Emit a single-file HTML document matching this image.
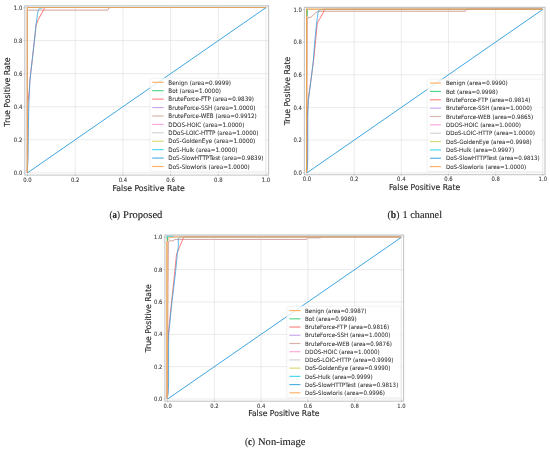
<!DOCTYPE html>
<html lang="en"><head><meta charset="utf-8"><title>ROC curves</title>
<style>html,body{margin:0;padding:0;background:#fff}body{width:550px;height:452px;overflow:hidden}svg{display:block}.s{font-family:"DejaVu Sans","Liberation Sans",sans-serif;fill:#2a2a2a;stroke:#2a2a2a;stroke-width:.14px;text-rendering:geometricPrecision}.t{font-family:"DejaVu Sans","Liberation Sans",sans-serif;fill:#333;stroke:#333;stroke-width:.06px;text-rendering:geometricPrecision}.l{font-family:"DejaVu Sans","Liberation Sans",sans-serif;fill:#303030;stroke:#303030;stroke-width:.05px;text-rendering:geometricPrecision}.c{font-family:"Liberation Serif","DejaVu Serif",serif;fill:#1a1a1a;stroke:#1a1a1a;stroke-width:.12px;text-rendering:geometricPrecision}</style></head><body>
<svg width="550" height="452" viewBox="0 0 550 452">
<rect width="550" height="452" fill="#fff"/>
<g id="plot-a">
<path d="M27.5 5.9V174.8M24.8 172.8H268.6M75.2 5.9V174.8M24.8 139.76H268.6M122.9 5.9V174.8M24.8 106.72H268.6M170.6 5.9V174.8M24.8 73.68H268.6M218.3 5.9V174.8M24.8 40.64H268.6M266 5.9V174.8M24.8 7.6H268.6" stroke="#d6d6d6" stroke-width="0.5" fill="none"/>
<path d="M27.5 174.7v1.3M24.9 172.8h-1.3M75.2 174.7v1.3M24.9 139.76h-1.3M122.9 174.7v1.3M24.9 106.72h-1.3M170.6 174.7v1.3M24.9 73.68h-1.3M218.3 174.7v1.3M24.9 40.64h-1.3M266 174.7v1.3M24.9 7.6h-1.3" stroke="#6a6a6a" stroke-width="0.45" fill="none"/>
<path d="M27.5 172.8L266 7.6" stroke="#38a4dd" stroke-width="0.98" fill="none"/>
<g transform="translate(-0.25 -0.1)">
<path d="M27.5 172.8L27.5 10.24L108.11 10.24L109.54 7.6L266 7.6" stroke="#d3a19a" stroke-width="1.0" fill="none" stroke-linejoin="round"/>
<path d="M27.5 172.8L27.98 156.28L28.22 103.42L29.53 90.2L30.2 80.12L34.51 42.13L36.3 25.11L38.49 19.82L44.7 8.29L45.15 7.6L266 7.6" stroke="#ff6060" stroke-width="0.85" fill="none" stroke-linejoin="round"/>
<path d="M27.5 172.8L28.22 159.58L28.57 131.5L29.05 106.72L29.77 90.2L30.2 80.12L34.51 42.13L36.3 25.11L37.59 15.36L38.49 10.08L39.81 8.49L44.2 7.6L266 7.6" stroke="#3aa6df" stroke-width="0.8" fill="none" stroke-linejoin="round"/>
<path d="M27.5 172.8V7.6H266" stroke="#e2a660" stroke-width="1.15" fill="none"/>
</g>
<path d="M24.8 174.8V5.9H268.6V174.8" fill="none" stroke="#c4c6c8" stroke-width="1.1"/>
<path d="M24.3 175.1H269.1" fill="none" stroke="#b2b4b6" stroke-width="0.8"/>
<text class="t" transform="translate(27.5 181.5) scale(1 1.12)" font-size="5.35" text-anchor="middle">0.0</text>
<text class="t" transform="translate(22.3 174.99) scale(1 1.12)" font-size="5.35" text-anchor="end">0.0</text>
<text class="t" transform="translate(75.2 181.5) scale(1 1.12)" font-size="5.35" text-anchor="middle">0.2</text>
<text class="t" transform="translate(22.3 141.95) scale(1 1.12)" font-size="5.35" text-anchor="end">0.2</text>
<text class="t" transform="translate(122.9 181.5) scale(1 1.12)" font-size="5.35" text-anchor="middle">0.4</text>
<text class="t" transform="translate(22.3 108.91) scale(1 1.12)" font-size="5.35" text-anchor="end">0.4</text>
<text class="t" transform="translate(170.6 181.5) scale(1 1.12)" font-size="5.35" text-anchor="middle">0.6</text>
<text class="t" transform="translate(22.3 75.87) scale(1 1.12)" font-size="5.35" text-anchor="end">0.6</text>
<text class="t" transform="translate(218.3 181.5) scale(1 1.12)" font-size="5.35" text-anchor="middle">0.8</text>
<text class="t" transform="translate(22.3 42.83) scale(1 1.12)" font-size="5.35" text-anchor="end">0.8</text>
<text class="t" transform="translate(266 181.5) scale(1 1.12)" font-size="5.35" text-anchor="middle">1.0</text>
<text class="t" transform="translate(22.3 9.79) scale(1 1.12)" font-size="5.35" text-anchor="end">1.0</text>
<text class="s" transform="translate(148.6 190.7) scale(1 1.06)" font-size="7.79" text-anchor="middle">False Positive Rate</text>
<text class="s" transform="translate(10.4 92) rotate(-90) scale(1 1.06)" font-size="7.79" text-anchor="middle">True Positive Rate</text>
<rect x="150" y="78.2" width="115.6" height="93" rx="1" fill="#fff" fill-opacity="0.8" stroke="#e2e2e2" stroke-width="0.5"/>
<path d="M152.2 82.3H163.6" stroke="#ffae62" stroke-width="1.15"/>
<text class="l" transform="translate(168.3 84.5) scale(1 1.07)" font-size="5.63">Benign (area=0.9999)</text>
<path d="M152.2 90.72H163.6" stroke="#4fd58a" stroke-width="1.15"/>
<text class="l" transform="translate(168.3 92.92) scale(1 1.07)" font-size="5.63">Bot (area=1.0000)</text>
<path d="M152.2 99.14H163.6" stroke="#ff8181" stroke-width="1.15"/>
<text class="l" transform="translate(168.3 101.34) scale(1 1.07)" font-size="5.63">BruteForce-FTP (area=0.9839)</text>
<path d="M152.2 107.56H163.6" stroke="#c9a6ea" stroke-width="1.15"/>
<text class="l" transform="translate(168.3 109.76) scale(1 1.07)" font-size="5.63">BruteForce-SSH (area=1.0000)</text>
<path d="M152.2 115.98H163.6" stroke="#d9b3aa" stroke-width="1.15"/>
<text class="l" transform="translate(168.3 118.18) scale(1 1.07)" font-size="5.63">BruteForce-WEB (area=0.9912)</text>
<path d="M152.2 124.4H163.6" stroke="#ffa6da" stroke-width="1.15"/>
<text class="l" transform="translate(168.3 126.6) scale(1 1.07)" font-size="5.63">DDOS-HOIC (area=1.0000)</text>
<path d="M152.2 132.82H163.6" stroke="#d2d2d2" stroke-width="1.15"/>
<text class="l" transform="translate(168.3 135.02) scale(1 1.07)" font-size="5.63">DDoS-LOIC-HTTP (area=1.0000)</text>
<path d="M152.2 141.24H163.6" stroke="#d9d973" stroke-width="1.15"/>
<text class="l" transform="translate(168.3 143.44) scale(1 1.07)" font-size="5.63">DoS-GoldenEye (area=1.0000)</text>
<path d="M152.2 149.66H163.6" stroke="#45d9f0" stroke-width="1.15"/>
<text class="l" transform="translate(168.3 151.86) scale(1 1.07)" font-size="5.63">DoS-Hulk (area=1.0000)</text>
<path d="M152.2 158.08H163.6" stroke="#4fb0e6" stroke-width="1.15"/>
<text class="l" transform="translate(168.3 160.28) scale(1 1.07)" font-size="5.63">DoS-SlowHTTPTest (area=0.9839)</text>
<path d="M152.2 166.5H163.6" stroke="#ffae62" stroke-width="1.15"/>
<text class="l" transform="translate(168.3 168.7) scale(1 1.07)" font-size="5.63">DoS-Slowloris (area=1.0000)</text>
<text class="c" x="109.6" y="218" font-size="10.4" textLength="10.4" lengthAdjust="spacingAndGlyphs">(<tspan font-weight="bold">a</tspan>)</text>
<text class="c" x="123" y="218" font-size="10.4" textLength="39.4" lengthAdjust="spacingAndGlyphs">Proposed</text>
</g>
<g id="plot-b">
<path d="M307 7.4V174.4M304.4 172.8H545M354.16 7.4V174.4M304.4 140.12H545M401.32 7.4V174.4M304.4 107.44H545M448.48 7.4V174.4M304.4 74.76H545M495.64 7.4V174.4M304.4 42.08H545M542.8 7.4V174.4M304.4 9.4H545" stroke="#d6d6d6" stroke-width="0.5" fill="none"/>
<path d="M307 174.3v1.3M304.5 172.8h-1.3M354.16 174.3v1.3M304.5 140.12h-1.3M401.32 174.3v1.3M304.5 107.44h-1.3M448.48 174.3v1.3M304.5 74.76h-1.3M495.64 174.3v1.3M304.5 42.08h-1.3M542.8 174.3v1.3M304.5 9.4h-1.3" stroke="#6a6a6a" stroke-width="0.45" fill="none"/>
<path d="M307 172.8L542.8 9.4" stroke="#38a4dd" stroke-width="0.98" fill="none"/>
<g transform="translate(-0.45 -0.3)">
<path d="M307 172.8L307.71 20.84L308.39 17.73L311.48 17.5L315.89 13.21L317.71 12.19L321.15 11.52L465.93 11.52L467.34 9.4L542.8 9.4" stroke="#d3a19a" stroke-width="1.0" fill="none" stroke-linejoin="round"/>
<path d="M307 172.8L307.71 164.63L307.83 118.88L308.06 110.71L308.56 101.39L308.89 97.64L312.19 74.43L314.07 60.38L315.7 44.42L317.71 23.4L324 12.41L324.59 9.69L542.8 9.4" stroke="#ff6060" stroke-width="0.85" fill="none" stroke-linejoin="round"/>
<path d="M307 172.8L307.94 167.9L308.25 156.46L308.25 118.88L308.46 110.71L308.79 101.39L309.12 98.94L312.19 74.43L313.79 60.38L314.99 44.42L316.81 25.61L318.51 12.41L319.4 10.4L323.91 9.6L542.8 9.4" stroke="#3aa6df" stroke-width="0.8" fill="none" stroke-linejoin="round"/>
<path d="M307 172.8V9.4H542.8" stroke="#eca552" stroke-width="1.15" fill="none"/>
<path d="M307.71 16.75L307.71 9.89" stroke="#3cc873" stroke-width="1.0" fill="none" stroke-linejoin="round"/>
</g>
<path d="M304.4 174.4V7.4H545V174.4" fill="none" stroke="#c4c6c8" stroke-width="1.1"/>
<path d="M303.9 174.7H545.5" fill="none" stroke="#b2b4b6" stroke-width="0.8"/>
<text class="t" transform="translate(307 181.1) scale(1 1.12)" font-size="5.3" text-anchor="middle">0.0</text>
<text class="t" transform="translate(301.9 174.97) scale(1 1.12)" font-size="5.3" text-anchor="end">0.0</text>
<text class="t" transform="translate(354.16 181.1) scale(1 1.12)" font-size="5.3" text-anchor="middle">0.2</text>
<text class="t" transform="translate(301.9 142.29) scale(1 1.12)" font-size="5.3" text-anchor="end">0.2</text>
<text class="t" transform="translate(401.32 181.1) scale(1 1.12)" font-size="5.3" text-anchor="middle">0.4</text>
<text class="t" transform="translate(301.9 109.61) scale(1 1.12)" font-size="5.3" text-anchor="end">0.4</text>
<text class="t" transform="translate(448.48 181.1) scale(1 1.12)" font-size="5.3" text-anchor="middle">0.6</text>
<text class="t" transform="translate(301.9 76.93) scale(1 1.12)" font-size="5.3" text-anchor="end">0.6</text>
<text class="t" transform="translate(495.64 181.1) scale(1 1.12)" font-size="5.3" text-anchor="middle">0.8</text>
<text class="t" transform="translate(301.9 44.25) scale(1 1.12)" font-size="5.3" text-anchor="end">0.8</text>
<text class="t" transform="translate(542.8 181.1) scale(1 1.12)" font-size="5.3" text-anchor="middle">1.0</text>
<text class="t" transform="translate(301.9 11.57) scale(1 1.12)" font-size="5.3" text-anchor="end">1.0</text>
<text class="s" transform="translate(424.6 189.8) scale(1 1.06)" font-size="7.7" text-anchor="middle">False Positive Rate</text>
<text class="s" transform="translate(290.3 91.1) rotate(-90) scale(1 1.06)" font-size="7.7" text-anchor="middle">True Positive Rate</text>
<rect x="427.2" y="79.2" width="115.2" height="92.3" rx="1" fill="#fff" fill-opacity="0.8" stroke="#e2e2e2" stroke-width="0.5"/>
<path d="M430 83.1H441" stroke="#ffae62" stroke-width="1.15"/>
<text class="l" transform="translate(445.9 85.27) scale(1 1.07)" font-size="5.56">Benign (area=0.9990)</text>
<path d="M430 91.45H441" stroke="#4fd58a" stroke-width="1.15"/>
<text class="l" transform="translate(445.9 93.62) scale(1 1.07)" font-size="5.56">Bot (area=0.9998)</text>
<path d="M430 99.8H441" stroke="#ff8181" stroke-width="1.15"/>
<text class="l" transform="translate(445.9 101.97) scale(1 1.07)" font-size="5.56">BruteForce-FTP (area=0.9814)</text>
<path d="M430 108.15H441" stroke="#c9a6ea" stroke-width="1.15"/>
<text class="l" transform="translate(445.9 110.32) scale(1 1.07)" font-size="5.56">BruteForce-SSH (area=1.0000)</text>
<path d="M430 116.5H441" stroke="#d9b3aa" stroke-width="1.15"/>
<text class="l" transform="translate(445.9 118.67) scale(1 1.07)" font-size="5.56">BruteForce-WEB (area=0.9865)</text>
<path d="M430 124.85H441" stroke="#ffa6da" stroke-width="1.15"/>
<text class="l" transform="translate(445.9 127.02) scale(1 1.07)" font-size="5.56">DDOS-HOIC (area=1.0000)</text>
<path d="M430 133.2H441" stroke="#d2d2d2" stroke-width="1.15"/>
<text class="l" transform="translate(445.9 135.37) scale(1 1.07)" font-size="5.56">DDoS-LOIC-HTTP (area=1.0000)</text>
<path d="M430 141.55H441" stroke="#d9d973" stroke-width="1.15"/>
<text class="l" transform="translate(445.9 143.72) scale(1 1.07)" font-size="5.56">DoS-GoldenEye (area=0.9998)</text>
<path d="M430 149.9H441" stroke="#45d9f0" stroke-width="1.15"/>
<text class="l" transform="translate(445.9 152.07) scale(1 1.07)" font-size="5.56">DoS-Hulk (area=0.9997)</text>
<path d="M430 158.25H441" stroke="#4fb0e6" stroke-width="1.15"/>
<text class="l" transform="translate(445.9 160.42) scale(1 1.07)" font-size="5.56">DoS-SlowHTTPTest (area=0.9813)</text>
<path d="M430 166.6H441" stroke="#ffae62" stroke-width="1.15"/>
<text class="l" transform="translate(445.9 168.77) scale(1 1.07)" font-size="5.56">DoS-Slowloris (area=1.0000)</text>
<text class="c" x="387.6" y="218.2" font-size="10.4" textLength="11.8" lengthAdjust="spacingAndGlyphs">(<tspan font-weight="bold">b</tspan>)</text>
<text class="c" x="402.6" y="218.2" font-size="10.4" textLength="39.4" lengthAdjust="spacingAndGlyphs">1 channel</text>
</g>
<g id="plot-c">
<path d="M167.6 235.1V400.9M164.9 399H403.6M214.36 235.1V400.9M164.9 366.66H403.6M261.12 235.1V400.9M164.9 334.32H403.6M307.88 235.1V400.9M164.9 301.98H403.6M354.64 235.1V400.9M164.9 269.64H403.6M401.4 235.1V400.9M164.9 237.3H403.6" stroke="#d6d6d6" stroke-width="0.5" fill="none"/>
<path d="M167.6 400.8v1.3M165 399h-1.3M214.36 400.8v1.3M165 366.66h-1.3M261.12 400.8v1.3M165 334.32h-1.3M307.88 400.8v1.3M165 301.98h-1.3M354.64 400.8v1.3M165 269.64h-1.3M401.4 400.8v1.3M165 237.3h-1.3" stroke="#6a6a6a" stroke-width="0.45" fill="none"/>
<path d="M167.6 399L401.4 237.3" stroke="#38a4dd" stroke-width="0.98" fill="none"/>
<g transform="translate(-0.4 -0.5)">
<path d="M166.9 399L166.9 242.96L167.83 241.34L170.41 237.95L174.61 237.3" stroke="#f2bd84" stroke-width="1.0" fill="none" stroke-linejoin="round"/>
<path d="M167.6 399L168.77 242.31L169.47 241.34L174.15 241.34L174.85 239.89L307.18 239.89L307.88 238.35L320.74 238.35L321.91 237.3L401.4 237.3" stroke="#d3a19a" stroke-width="1.0" fill="none" stroke-linejoin="round"/>
<path d="M167.6 399L168.3 390.92L168.42 345.64L168.82 334.32L172.04 301.98L175.2 272.23L176.91 254.76L178.71 250.8L179.59 248.2L183.99 238L184.67 237.3L401.4 237.3" stroke="#ff6060" stroke-width="0.85" fill="none" stroke-linejoin="round"/>
<path d="M167.6 399L168.54 394.15L169 382.83L169 344.02L169.12 334.32L172.39 301.98L173.91 290.18L175.99 272.23L177.79 254.28L178.71 247.16L178.71 239.24L179.99 237.62L183.38 237.38L401.4 237.3" stroke="#3aa6df" stroke-width="0.8" fill="none" stroke-linejoin="round"/>
<path d="M167.6 399V237.3H401.4" stroke="#ecae6c" stroke-width="1.15" fill="none"/>
<path d="M167.95 241.34L167.95 237.62" stroke="#3cc873" stroke-width="1.0" fill="none" stroke-linejoin="round"/>
<path d="M167.37 238.59L167.37 236.65L174.38 236.65" stroke="#3ad4e8" stroke-width="1.0" fill="none" stroke-linejoin="round"/>
</g>
<path d="M164.9 400.9V235.1H403.6V400.9" fill="none" stroke="#c4c6c8" stroke-width="1.1"/>
<path d="M164.4 401.2H404.1" fill="none" stroke="#b2b4b6" stroke-width="0.8"/>
<text class="t" transform="translate(167.6 407.6) scale(1 1.12)" font-size="5.25" text-anchor="middle">0.0</text>
<text class="t" transform="translate(162.4 401.15) scale(1 1.12)" font-size="5.25" text-anchor="end">0.0</text>
<text class="t" transform="translate(214.36 407.6) scale(1 1.12)" font-size="5.25" text-anchor="middle">0.2</text>
<text class="t" transform="translate(162.4 368.81) scale(1 1.12)" font-size="5.25" text-anchor="end">0.2</text>
<text class="t" transform="translate(261.12 407.6) scale(1 1.12)" font-size="5.25" text-anchor="middle">0.4</text>
<text class="t" transform="translate(162.4 336.47) scale(1 1.12)" font-size="5.25" text-anchor="end">0.4</text>
<text class="t" transform="translate(307.88 407.6) scale(1 1.12)" font-size="5.25" text-anchor="middle">0.6</text>
<text class="t" transform="translate(162.4 304.13) scale(1 1.12)" font-size="5.25" text-anchor="end">0.6</text>
<text class="t" transform="translate(354.64 407.6) scale(1 1.12)" font-size="5.25" text-anchor="middle">0.8</text>
<text class="t" transform="translate(162.4 271.79) scale(1 1.12)" font-size="5.25" text-anchor="end">0.8</text>
<text class="t" transform="translate(401.4 407.6) scale(1 1.12)" font-size="5.25" text-anchor="middle">1.0</text>
<text class="t" transform="translate(162.4 239.45) scale(1 1.12)" font-size="5.25" text-anchor="end">1.0</text>
<text class="s" transform="translate(283.8 415.6) scale(1 1.06)" font-size="7.66" text-anchor="middle">False Positive Rate</text>
<text class="s" transform="translate(150.7 318.4) rotate(-90) scale(1 1.06)" font-size="7.66" text-anchor="middle">True Positive Rate</text>
<rect x="286.8" y="306.2" width="114.1" height="91.5" rx="1" fill="#fff" fill-opacity="0.8" stroke="#e2e2e2" stroke-width="0.5"/>
<path d="M289.4 310.6H300.4" stroke="#ffae62" stroke-width="1.15"/>
<text class="l" transform="translate(305 312.76) scale(1 1.07)" font-size="5.53">Benign (area=0.9987)</text>
<path d="M289.4 318.82H300.4" stroke="#4fd58a" stroke-width="1.15"/>
<text class="l" transform="translate(305 320.98) scale(1 1.07)" font-size="5.53">Bot (area=0.9989)</text>
<path d="M289.4 327.04H300.4" stroke="#ff8181" stroke-width="1.15"/>
<text class="l" transform="translate(305 329.2) scale(1 1.07)" font-size="5.53">BruteForce-FTP (area=0.9816)</text>
<path d="M289.4 335.26H300.4" stroke="#c9a6ea" stroke-width="1.15"/>
<text class="l" transform="translate(305 337.42) scale(1 1.07)" font-size="5.53">BruteForce-SSH (area=1.0000)</text>
<path d="M289.4 343.48H300.4" stroke="#d9b3aa" stroke-width="1.15"/>
<text class="l" transform="translate(305 345.64) scale(1 1.07)" font-size="5.53">BruteForce-WEB (area=0.9876)</text>
<path d="M289.4 351.7H300.4" stroke="#ffa6da" stroke-width="1.15"/>
<text class="l" transform="translate(305 353.86) scale(1 1.07)" font-size="5.53">DDOS-HOIC (area=1.0000)</text>
<path d="M289.4 359.92H300.4" stroke="#d2d2d2" stroke-width="1.15"/>
<text class="l" transform="translate(305 362.08) scale(1 1.07)" font-size="5.53">DDoS-LOIC-HTTP (area=0.9999)</text>
<path d="M289.4 368.14H300.4" stroke="#d9d973" stroke-width="1.15"/>
<text class="l" transform="translate(305 370.3) scale(1 1.07)" font-size="5.53">DoS-GoldenEye (area=0.9990)</text>
<path d="M289.4 376.36H300.4" stroke="#45d9f0" stroke-width="1.15"/>
<text class="l" transform="translate(305 378.52) scale(1 1.07)" font-size="5.53">DoS-Hulk (area=0.9999)</text>
<path d="M289.4 384.58H300.4" stroke="#4fb0e6" stroke-width="1.15"/>
<text class="l" transform="translate(305 386.74) scale(1 1.07)" font-size="5.53">DoS-SlowHTTPTest (area=0.9813)</text>
<path d="M289.4 392.8H300.4" stroke="#ffae62" stroke-width="1.15"/>
<text class="l" transform="translate(305 394.96) scale(1 1.07)" font-size="5.53">DoS-Slowloris (area=0.9996)</text>
<text class="c" x="245" y="445" font-size="10.4" textLength="10" lengthAdjust="spacingAndGlyphs">(<tspan font-weight="bold">c</tspan>)</text>
<text class="c" x="258" y="445" font-size="10.4" textLength="47.4" lengthAdjust="spacingAndGlyphs">Non-image</text>
</g>
</svg></body></html>
